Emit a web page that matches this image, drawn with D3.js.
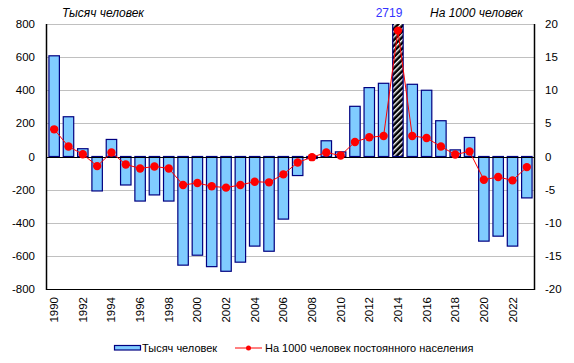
<!DOCTYPE html>
<html>
<head>
<meta charset="utf-8">
<script src="https://cdn.jsdelivr.net/npm/d3@7"></script>
<style>
    body { margin: 0; background: #fff; }
    svg text { font-family: "Liberation Sans", Arial, sans-serif; }
</style>
</head>
<body>
<div id="chart"></div>
<script>

// Years on the category axis
var years = d3.range(1990, 2024);

// Thousand people (bars)
var thousands = [608, 240, 47, -208, 103, -172, -269, -232, -269, -656,
                 -596, -665, -693, -638, -541, -572, -378, -115, -12, 95,
                 28, 303, 416, 442, 2719, 436, 400, 216, 40, 115,
                 -511, -481, -541, -250];

// Per 1000 residents (line)
var per1000 = [4.1, 1.5, 0.35, -1.45, 0.6, -1.2, -1.8, -1.5, -1.8, -4.3,
               -4.0, -4.5, -4.7, -4.3, -3.8, -3.9, -2.7, -0.9, -0.1, 0.6,
               0.15, 2.2, 2.9, 3.1, 19.0, 3.1, 2.8, 1.5, 0.3, 0.76,
               -3.5, -3.1, -3.6, -1.6];

var leftTicks = [800, 600, 400, 200, 0, -200, -400, -600, -800];
var rightTicks = [20, 15, 10, 5, 0, -5, -10, -15, -20];
var yearLabels = years.filter(function(y) { return y % 2 === 0; });

var width = 574, height = 363;
var margin = {top: 24, right: 40, bottom: 74, left: 47};
var x0 = margin.left, x1 = width - margin.right + 0;
var yTop = 24, yBottom = 289;

var svg = d3.select("#chart").append("svg")
    .attr("width", width)
    .attr("height", height);

var defs = svg.append("defs");
var pat = defs.append("pattern")
    .attr("id", "hatch")
    .attr("patternUnits", "userSpaceOnUse")
    .attr("width", 4)
    .attr("height", 4)
    .attr("patternTransform", "rotate(45)");
pat.append("rect").attr("width", 4).attr("height", 4).attr("fill", "#000");
pat.append("rect").attr("x", 0).attr("width", 1.4).attr("height", 4).attr("fill", "#fff");

defs.append("clipPath").attr("id", "plotclip")
    .append("rect")
    .attr("x", x0).attr("y", yTop)
    .attr("width", 534 - x0).attr("height", yBottom - yTop);

var x = d3.scaleBand()
    .domain(years)
    .range([x0, 534])
    .paddingInner(0.2)
    .paddingOuter(0.1);

var yL = d3.scaleLinear().domain([-800, 800]).range([yBottom, yTop]);
var yR = d3.scaleLinear().domain([-20, 20]).range([yBottom, yTop]);

// grid
svg.append("g")
    .selectAll("line")
    .data(leftTicks)
    .join("line")
    .attr("x1", x0).attr("x2", 534)
    .attr("y1", d => Math.round(yL(d)) + 0.5)
    .attr("y2", d => Math.round(yL(d)) + 0.5)
    .attr("stroke", "#c0c0c0")
    .attr("stroke-width", 1);

// bars
svg.append("g")
    .attr("clip-path", "url(#plotclip)")
    .selectAll("rect")
    .data(years)
    .join("rect")
    .attr("x", d => x(d) + 0.5)
    .attr("width", x.bandwidth() - 1)
    .attr("y", (d, i) => yL(Math.max(0, thousands[i])))
    .attr("height", (d, i) => Math.abs(yL(thousands[i]) - yL(0)))
    .attr("fill", d => d === 2014 ? "url(#hatch)" : "#80ccff")
    .attr("stroke", "#000080")
    .attr("stroke-width", 1.2);

// axes lines
svg.append("line")
    .attr("x1", x0).attr("x2", 534)
    .attr("y1", Math.round(yL(0)) + 0.5).attr("y2", Math.round(yL(0)) + 0.5)
    .attr("stroke", "#000");
svg.append("line")
    .attr("x1", x0).attr("x2", 534)
    .attr("y1", yBottom + 0.5).attr("y2", yBottom + 0.5)
    .attr("stroke", "#000");
svg.append("line")
    .attr("x1", x0 - 0.5).attr("x2", x0 - 0.5)
    .attr("y1", yTop).attr("y2", yBottom + 1)
    .attr("stroke", "#000").attr("stroke-width", 1.5);
svg.append("line")
    .attr("x1", 534.5).attr("x2", 534.5)
    .attr("y1", yTop).attr("y2", yBottom + 1)
    .attr("stroke", "#000").attr("stroke-width", 1.5);

// line series
var line = d3.line()
    .x((d, i) => x(years[i]) + x.bandwidth() / 2)
    .y(d => yR(d));

svg.append("path")
    .datum(per1000)
    .attr("d", line)
    .attr("fill", "none")
    .attr("stroke", "#ff0000")
    .attr("stroke-width", 1);

svg.append("g")
    .selectAll("circle")
    .data(per1000)
    .join("circle")
    .attr("cx", (d, i) => x(years[i]) + x.bandwidth() / 2)
    .attr("cy", d => yR(d))
    .attr("r", 4.2)
    .attr("fill", "#ff0000");

// left tick labels
svg.append("g")
    .selectAll("text")
    .data(leftTicks)
    .join("text")
    .attr("x", 35)
    .attr("y", d => yL(d) + 4)
    .attr("text-anchor", "end")
    .attr("font-size", "11.5px")
    .text(d => d);

// right tick labels
svg.append("g")
    .selectAll("text")
    .data(rightTicks)
    .join("text")
    .attr("x", 545)
    .attr("y", d => yR(d) + 4)
    .attr("text-anchor", "start")
    .attr("font-size", "11.5px")
    .text(d => d);

// year labels
svg.append("g")
    .selectAll("text")
    .data(yearLabels)
    .join("text")
    .attr("transform", d => "translate(" + (x(d) + x.bandwidth() / 2 + 4) + "," + 297 + ") rotate(-90)")
    .attr("text-anchor", "end")
    .attr("font-size", "11.5px")
    .text(d => d);

// titles
svg.append("text")
    .attr("x", 62).attr("y", 17)
    .attr("font-size", "12px")
    .attr("font-style", "italic")
    .text("Тысяч человек");
svg.append("text")
    .attr("x", 523).attr("y", 17)
    .attr("text-anchor", "end")
    .attr("font-size", "12px")
    .attr("font-style", "italic")
    .text("На 1000 человек");
svg.append("text")
    .attr("x", 389).attr("y", 17)
    .attr("text-anchor", "middle")
    .attr("font-size", "12px")
    .attr("fill", "#3333ff")
    .text(thousands[years.indexOf(2014)]);

// legend
var lg = svg.append("g");
lg.append("rect")
    .attr("x", 114.5).attr("y", 345.5)
    .attr("width", 26).attr("height", 4.5)
    .attr("fill", "#80ccff")
    .attr("stroke", "#000080")
    .attr("stroke-width", 1.2);
lg.append("text")
    .attr("x", 142).attr("y", 352)
    .attr("font-size", "11px")
    .text("Тысяч человек");
lg.append("line")
    .attr("x1", 235).attr("x2", 262)
    .attr("y1", 348).attr("y2", 348)
    .attr("stroke", "#ff0000");
lg.append("circle")
    .attr("cx", 248.5).attr("cy", 348).attr("r", 2.5)
    .attr("fill", "#ff0000");
lg.append("text")
    .attr("x", 265).attr("y", 352)
    .attr("font-size", "11px")
    .text("На 1000 человек постоянного населения");

</script>
</body>
</html>
